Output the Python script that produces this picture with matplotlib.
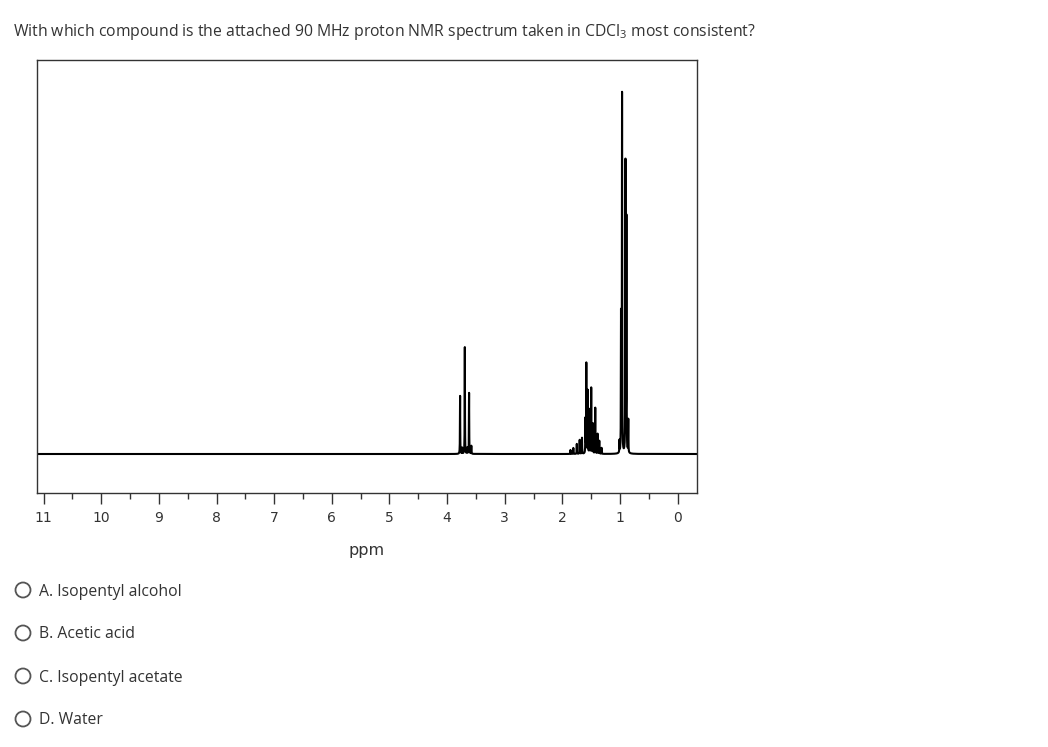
import numpy as np
import matplotlib
matplotlib.use("Agg")
import matplotlib.pyplot as plt
from matplotlib.patches import Circle
from matplotlib.ticker import MultipleLocator

plt.rcParams['mathtext.fontset'] = 'custom'
plt.rcParams['mathtext.rm'] = 'Open Sans'

# ---- data ----
title = "With which compound is the attached 90 MHz proton NMR spectrum taken in CDCl$_\\mathregular{3}$ most consistent?"
options = ["A. Isopentyl alcohol", "B. Acetic acid", "C. Isopentyl acetate", "D. Water"]
x_label = "ppm"
major_ticks = [11, 10, 9, 8, 7, 6, 5, 4, 3, 2, 1, 0]

# CH2-O triplet (~3.7 ppm)
triplet_ppm = [3.775, 3.74, 3.693, 3.65, 3.619, 3.58]
triplet_h = [58, 6, 107, 6, 61, 8]
# CH / CH2 multiplet (~1.5 ppm)
multiplet_ppm = [1.86, 1.81, 1.75, 1.70, 1.66, 1.60, 1.585, 1.56, 1.53, 1.50, 1.47, 1.43, 1.39, 1.36, 1.32]
multiplet_h = [4, 6, 10, 14, 16, 34, 90, 63, 44, 66, 30, 46, 20, 13, 6]
# CH3 doublet (~0.93 ppm)
doublet_ppm = [1.01, 0.983, 0.965, 0.906, 0.889, 0.857]
doublet_h = [12, 138, 359, 290, 233, 33]

W, H = 1048, 747
fig = plt.figure(figsize=(W / 100, H / 100), dpi=100)

# overlay axes in pixel coordinates for page text
ov = fig.add_axes([0, 0, 1, 1])
ov.set_xlim(0, W)
ov.set_ylim(H, 0)
ov.axis('off')

txt_color = '#333333'
ov.text(13, 32.5, title, fontsize=11.3, family='Open Sans', color=txt_color, va='center', ha='left')
for i, opt in enumerate(options):
    y = 590 + 43 * i
    ov.add_patch(Circle((23, y), 7.5, fill=False, edgecolor='#555555', linewidth=1.3))
    ov.text(39, y + 1.5, opt, fontsize=11.3, family='Open Sans', color=txt_color, va='center', ha='left')

# spectrum axes
left, right, top, bottom = 37.3, 696.7, 60, 493
ax = fig.add_axes([left / W, 1 - bottom / H, (right - left) / W, (bottom - top) / H])

ppm = np.linspace(-0.4, 11.2, 40000)
spec = np.zeros_like(ppm)
hw = 0.0025
for pos_list, h_list in [(triplet_ppm, triplet_h), (multiplet_ppm, multiplet_h), (doublet_ppm, doublet_h)]:
    for p, h in zip(pos_list, h_list):
        spec += h * hw**2 / ((ppm - p)**2 + hw**2)

ax.plot(ppm, spec, color='black', linewidth=1.5)
ax.set_xlim(11.11, -0.33)
ax.set_ylim(-39, 394)
ax.set_yticks([])
ax.xaxis.set_major_locator(MultipleLocator(1))
ax.xaxis.set_minor_locator(MultipleLocator(0.5))
ax.tick_params(axis='x', which='major', direction='out', length=8, width=1, color='#333333',
               labelsize=10, labelcolor='#333333', pad=5)
ax.tick_params(axis='x', which='minor', direction='out', length=4.3, width=1, color='#333333')
ax.set_xticks(major_ticks)
ax.set_xticklabels([str(t) for t in major_ticks], family='DejaVu Sans')
for s in ax.spines.values():
    s.set_color('#333333')
    s.set_linewidth(1.0)
ax.set_xlabel(x_label, fontsize=11.5, color='#333333', labelpad=13, family='DejaVu Sans')

fig.savefig('out.png', dpi=100)
